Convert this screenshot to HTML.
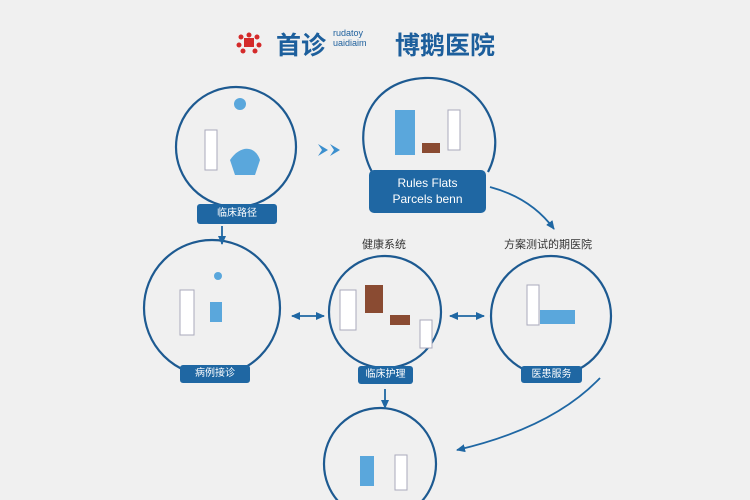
<!DOCTYPE html><html><head><meta charset="utf-8"><style>
body{margin:0;width:750px;height:500px;background:#f0f0f0;overflow:hidden;font-family:"Liberation Sans","Noto Sans CJK SC",sans-serif;position:relative}
.t{position:absolute;color:#1d5f9c;font-weight:bold;white-space:nowrap}
.lb{position:absolute;background:#1f67a3;color:#fff;font-size:10px;text-align:center;border-radius:3px}
</style></head><body>
<svg width="750" height="500" style="position:absolute;left:0;top:0">
<defs><marker id="a" markerUnits="userSpaceOnUse" markerWidth="10" markerHeight="10" refX="8" refY="5" orient="auto"><path d="M0,1L9,5L0,9z" fill="#1f67a3"/></marker>
<marker id="b" markerUnits="userSpaceOnUse" markerWidth="10" markerHeight="10" refX="2" refY="5" orient="auto"><path d="M10,1L1,5L10,9z" fill="#1f67a3"/></marker></defs>
<g fill="#d42a2a"><circle cx="241" cy="37" r="2.5"/><circle cx="249" cy="35" r="2.5"/><circle cx="257" cy="37" r="2.5"/><rect x="244" y="38" width="10" height="9"/><circle cx="239" cy="45" r="2.5"/><circle cx="259" cy="45" r="2.5"/><circle cx="243" cy="51" r="2.5"/><circle cx="255" cy="51" r="2.5"/></g>
<g fill="none" stroke="#1d5a91" stroke-width="2.2">
<circle cx="236" cy="147" r="60"/>
<path d="M372,172 C350,130 370,80 425,78 C480,76 510,130 488,172"/>
<circle cx="212" cy="308" r="68"/>
<circle cx="385" cy="312" r="56"/>
<circle cx="551" cy="316" r="60"/>
<circle cx="380" cy="464" r="56"/>
</g>
<g stroke="#1f67a3" stroke-width="1.8" fill="none">
<line x1="222" y1="226" x2="222" y2="244" marker-end="url(#a)"/>
<line x1="292" y1="316" x2="324" y2="316" marker-end="url(#a)" marker-start="url(#b)"/>
<line x1="450" y1="316" x2="484" y2="316" marker-end="url(#a)" marker-start="url(#b)"/>
<line x1="385" y1="389" x2="385" y2="408" marker-end="url(#a)"/>
<path d="M490,187 C520,195 540,210 554,229" marker-end="url(#a)"/>
<path d="M600,378 C560,420 500,440 457,450" marker-end="url(#a)"/>
</g>
<g fill="#3b8fce"><path d="M318,144l10,6l-10,6l4,-6z"/><path d="M330,144l10,6l-10,6l4,-6z"/></g>
<g fill="#5aa7dc"><circle cx="240" cy="104" r="6"/><path d="M230,160 c10,-15 25,-15 30,0 l-5,15 h-20z"/>
<circle cx="218" cy="276" r="4"/><rect x="210" y="302" width="12" height="20"/>
<path d="M395,110 h20 v45 h-20z"/><rect x="540" y="310" width="35" height="14"/><rect x="360" y="456" width="14" height="30"/></g>
<g fill="#fff" stroke="#aab" stroke-width="1"><rect x="205" y="130" width="12" height="40"/><rect x="180" y="290" width="14" height="45"/><rect x="420" y="320" width="12" height="28"/><rect x="527" y="285" width="12" height="40"/><rect x="448" y="110" width="12" height="40"/><rect x="340" y="290" width="16" height="40"/><rect x="395" y="455" width="12" height="35"/></g>
<g fill="#8a4b32"><rect x="365" y="285" width="18" height="28"/><rect x="422" y="143" width="18" height="10"/><rect x="390" y="315" width="20" height="10"/></g>
</svg>
<div class="t" style="left:276px;top:26px;font-size:25px">首诊</div>
<div class="t" style="left:333px;top:28px;font-size:9px;line-height:10px;font-weight:normal">rudatoy<br>uaidiaim</div>
<div class="t" style="left:395px;top:26px;font-size:25px">博鹅医院</div>
<div class="lb" style="left:197px;top:204px;width:80px;height:20px;line-height:20px">临床路径</div>
<div class="lb" style="left:369px;top:170px;width:117px;height:43px;font-size:12px;line-height:16px;padding-top:5px;box-sizing:border-box;border-radius:5px">Rules Flats<br>Parcels benn</div>
<div class="lb" style="left:180px;top:365px;width:70px;height:18px;line-height:18px">病例接诊</div>
<div class="lb" style="left:358px;top:366px;width:55px;height:18px;line-height:18px">临床护理</div>
<div class="lb" style="left:521px;top:366px;width:61px;height:17px;line-height:17px">医患服务</div>
<div class="t" style="left:362px;top:236px;font-size:11px;font-weight:normal;color:#333">健康系统</div>
<div class="t" style="left:504px;top:236px;font-size:11px;font-weight:normal;color:#333">方案测试的期医院</div>
</body></html>
